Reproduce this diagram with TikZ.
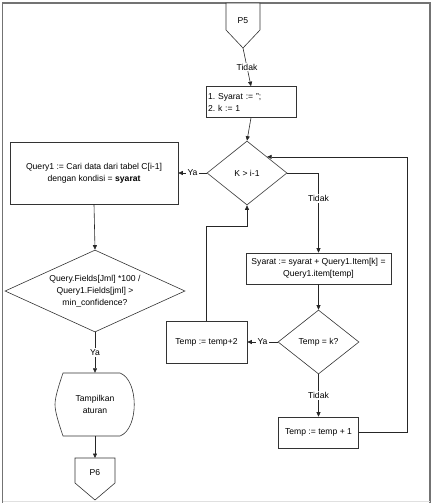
\documentclass[tikz,border=0pt]{standalone}
\usepackage{fontspec}
\setmainfont{Liberation Sans}
\usetikzlibrary{arrows.meta,shapes.geometric}
\begin{document}
\frenchspacing
\begin{tikzpicture}[x=1pt,y=-1pt,
  fnt/.style={font=\fontsize{8.6}{12}\selectfont},
  line/.style={draw=black!85, line width=0.6pt},
  arr/.style={line, -{Triangle[length=4.5pt,width=4pt]}},
  box/.style={fnt, draw=black!80, line width=0.6pt, fill=white, inner sep=0pt, align=center},
  dia/.style={fnt, draw=black!80, line width=0.6pt, diamond, inner sep=0pt, align=center},
  lbl/.style={fnt, fill=white, inner sep=1.2pt},
  txt/.style={fnt, align=center, inner sep=0pt},
  shp/.style={draw=black!80, line width=0.6pt, fill=white},
]
\useasboundingbox (0,0) rectangle (434,503);
% frame
\draw[draw=black!55, line width=1.3pt] (2.5,503) -- (2.5,3) -- (430,3) -- (430,503);
\draw[draw=black!12, line width=0.8pt] (2.5,501) -- (430,501);

% P5 off-page connector
\draw[shp] (226,3) -- (260,3) -- (260,30) -- (243,48) -- (226,30) -- cycle;
\node[txt] (p5) at (243,21) {P5};
\coordinate (p5tip) at (243,48);

% box 1
\node[box, minimum width=90pt, minimum height=31pt, text width=86pt, align=left] (b1) at (251,102) {1. Syarat := '';\\2. k := 1};
\draw[arr] (p5tip) -- node[lbl] {Tidak} (b1.north);

% diamond K > i-1
\node[dia, minimum width=80pt, minimum height=64pt] (d1) at (247,173) {K > i-1};
\draw[arr] (b1.south) -- (d1.north);

% Query1 box
\node[box, minimum width=168pt, minimum height=62pt] (q1) at (94,173) {Query1 := Cari data dari tabel C[i-1]\\dengan kondisi = \textbf{syarat}};
\draw[arr] (d1.west) -- node[lbl] {Ya} (q1.east);

% Syarat box
\node[box, minimum width=145pt, minimum height=31pt] (sy) at (318.5,268.5) {Syarat := syarat + Query1.Item[k] =\\Query1.item[temp]};
\draw[arr] (d1.east) -| node[lbl, pos=0.66] {Tidak} (sy.north);

% diamond Temp = k?
\node[dia, minimum width=81pt, minimum height=64pt] (d2) at (318.5,342) {Temp = k?};
\draw[arr] (sy.south) -- (d2.north);

% Temp := temp+2
\node[box, minimum width=81pt, minimum height=42pt] (t2) at (206.5,342) {Temp := temp+2};
\draw[arr] (d2.west) -- node[lbl] {Ya} (t2.east);
\draw[arr] (t2.north) |- ([yshift=-21pt]d1.south) -- (d1.south);

% Temp := temp + 1
\node[box, minimum width=80pt, minimum height=31pt] (t1) at (318.5,432.5) {Temp := temp + 1};
\draw[arr] (d2.south) -- node[lbl] {Tidak} (t1.north);
\draw[arr] (t1.east) -| ([xshift=140pt]d1.north east) -- (d1.north east);

% diamond Query
\node[dia, minimum width=180pt, minimum height=82pt, shape aspect=2.2] (d3) at (95,291) {Query.Fields[Jml] *100 /\\Query1.Fields[jml] >\\min\_confidence?};
\draw[arr] (q1.south) -- (d3.north);

% display shape
\draw[shp] (63,373) -- (120,373) .. controls (139,380) and (139,429) .. (120,436) -- (63,436)
  .. controls (59,424) and (55,412) .. (55,404.5) .. controls (55,397) and (59,385) .. (63,373) -- cycle;
\node[txt, minimum width=80pt, minimum height=63pt] (disp) at (95,404.5) {Tampilkan\\aturan};
\draw[arr] (d3.south) -- node[lbl] {Ya} (disp.north);

% P6 off-page connector
\draw[shp] (75,458) -- (115,458) -- (115,483) -- (95,500) -- (75,483) -- cycle;
\coordinate (p6top) at (95,458);
\node[txt] (p6) at (95,473) {P6};
\draw[arr] (disp.south) -- (p6top);
\end{tikzpicture}
\end{document}
